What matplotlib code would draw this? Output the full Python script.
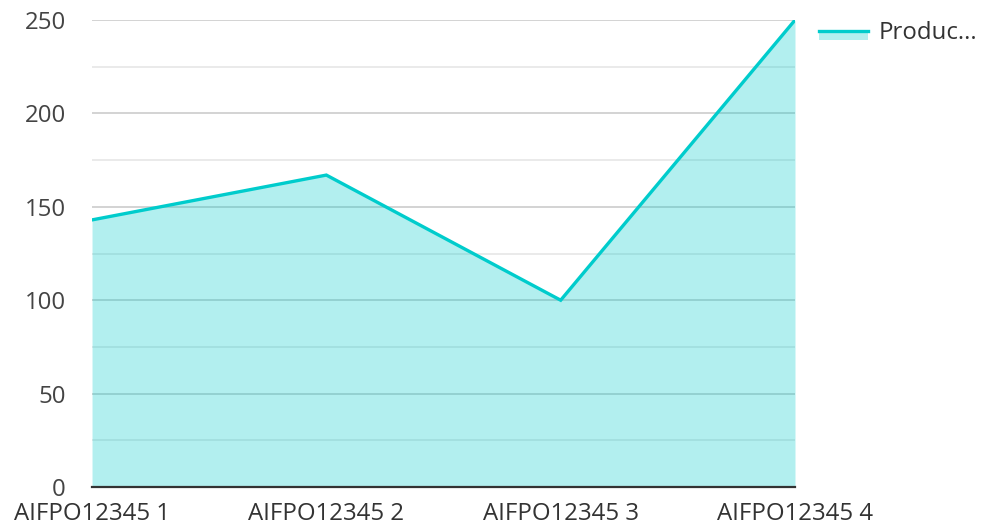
import matplotlib
matplotlib.use("Agg")
import matplotlib.pyplot as plt
from matplotlib.legend_handler import HandlerBase
from matplotlib.lines import Line2D
from matplotlib.patches import Rectangle

plt.rcParams["font.family"] = ["Open Sans", "DejaVu Sans"]

categories = ["AIFPO12345 1", "AIFPO12345 2", "AIFPO12345 3", "AIFPO12345 4"]
values = [143, 167, 100, 250]
series_name = "Produc..."

LINE_COLOR = "#00CCCC"
TEXT_COLOR = "#333333"


class LineAreaHandler(HandlerBase):
    # legend key: line on top with the shaded area underneath
    def create_artists(self, legend, orig_handle, xdescent, ydescent,
                       width, height, fontsize, trans):
        yc = height / 2 - ydescent
        area = Rectangle((-xdescent, yc - height * 0.55), width, height * 0.55,
                         facecolor=LINE_COLOR, alpha=0.3, edgecolor="none",
                         transform=trans)
        line = Line2D([-xdescent, width - xdescent], [yc, yc],
                      color=LINE_COLOR, linewidth=2.4, transform=trans)
        return [area, line]


fig = plt.figure(figsize=(9.81, 5.28), dpi=100)
ax = fig.add_axes([0.0938, 0.0777, 0.7166, 0.8843])

x = list(range(len(categories)))
ax.fill_between(x, values, 0, color=LINE_COLOR, alpha=0.3, linewidth=0, zorder=2)
line, = ax.plot(x, values, color=LINE_COLOR, linewidth=2.4, zorder=3,
                solid_joinstyle="miter")

ax.set_xlim(0, len(categories) - 1)
ax.set_ylim(0, 250)
ax.set_yticks(range(0, 251, 50))
ax.set_yticks(range(25, 250, 50), minor=True)
ax.set_xticks(x)
ax.set_xticklabels(categories)

ax.grid(True, which="major", axis="y", color="#cccccc", linewidth=1.2, zorder=1)
ax.grid(True, which="minor", axis="y", color="#e6e6e6", linewidth=1.2, zorder=1)
ax.set_axisbelow(True)

for side in ["top", "right", "left"]:
    ax.spines[side].set_visible(False)
ax.spines["bottom"].set_color(TEXT_COLOR)
ax.spines["bottom"].set_linewidth(1.6)
ax.spines["bottom"].set_zorder(4)

ax.tick_params(axis="y", which="both", length=0, pad=19,
               labelsize=17.3, labelcolor="#444444")
ax.tick_params(axis="x", length=0, pad=11, labelsize=17.3, labelcolor=TEXT_COLOR)

leg = ax.legend([line], [series_name], handler_map={Line2D: LineAreaHandler()},
                loc="upper left", bbox_to_anchor=(1.02, 1.018), frameon=False,
                fontsize=17.3, handlelength=2.05, handletextpad=0.45,
                borderaxespad=0)
for t in leg.get_texts():
    t.set_color(TEXT_COLOR)

fig.savefig("out.png", dpi=100)
